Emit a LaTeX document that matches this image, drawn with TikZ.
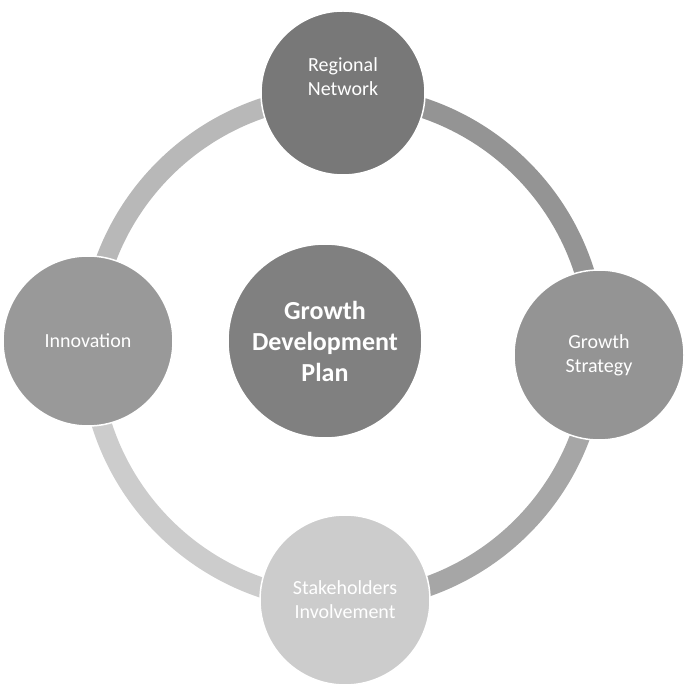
\documentclass[tikz,border=0pt]{standalone}
\usepackage{fontspec}
\setmainfont{Carlito}
\begin{document}
\begin{tikzpicture}[x=1pt,y=1pt,
  bub/.style={circle,draw=white,line width=1.5pt,inner sep=0pt,text=white,align=center,font=\fontsize{20}{24}\selectfont},
  seg/.style={line width=20pt}]
\useasboundingbox (0,0) rectangle (685,685);
\coordinate (o) at (343,337);
\draw[seg,color=black!42] ([shift={(90:253)}]o) arc (90:0:253);
\draw[seg,color=black!35] ([shift={(0:253)}]o) arc (0:-90:253);
\draw[seg,color=black!20] ([shift={(-90:253)}]o) arc (-90:-180:253);
\draw[seg,color=black!28] ([shift={(180:253)}]o) arc (180:90:253);
\node[bub,minimum size=164pt,fill=black!53] (t) at (343,592) {Regional\\Network\\[8pt]};
\node[bub,minimum size=170pt,fill=black!42] (r) at (599,330) {Growth\\Strategy};
\node[bub,minimum size=170pt,fill=black!20] (b) at (345,85) {Stakeholders\\Involvement};
\node[bub,minimum size=170pt,fill=black!40] (l) at (88,344) {Innovation};
\node[bub,minimum size=194pt,fill=black!50,font=\bfseries\fontsize{26}{31}\selectfont] (c) at (325,344) {Growth\\Development\\Plan};
\end{tikzpicture}
\end{document}
